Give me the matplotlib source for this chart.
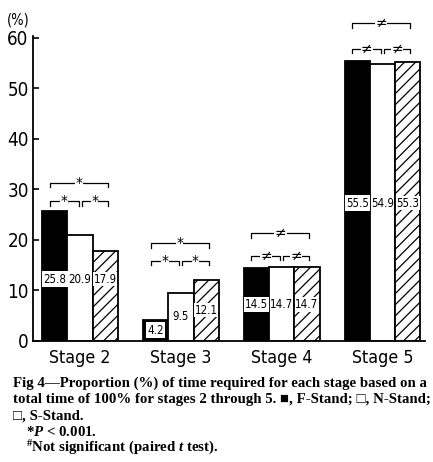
""" Fig 4: proportion of time per stage for three standing conditions """

import numpy as np
import matplotlib
matplotlib.use('Agg')
from matplotlib import pyplot as plt

stages = ['Stage 2', 'Stage 3', 'Stage 4', 'Stage 5']
f_stand = [25.8, 4.2, 14.5, 55.5]
n_stand = [20.9, 9.5, 14.7, 54.9]
s_stand = [17.9, 12.1, 14.7, 55.3]
signif = ['*', '*', '\u2260', '\u2260']
y_ticks = [0, 10, 20, 30, 40, 50, 60]

# layout only (label heights and bracket heights per stage)
label_y = [12.2, None, 7.2, 27.3]
low_bracket = [27.7, 15.9, 16.9, 57.8]
high_bracket = [31.3, 19.3, 21.3, 62.9]

plt.rcParams['hatch.linewidth'] = 0.9
NARROW = dict(family='DejaVu Sans', stretch='condensed')

fig = plt.figure(figsize=(4.33, 4.62), dpi=100)
ax = fig.add_axes([0.076, 0.262, 0.906, 0.70])

x = np.arange(len(stages)) * 4.0
w = 1.0
series = [f_stand, n_stand, s_stand]
styles = [dict(color='black', edgecolor='black'),
          dict(color='white', edgecolor='black'),
          dict(color='white', edgecolor='black', hatch='///')]
for k, (vals, st) in enumerate(zip(series, styles)):
    ax.bar(x + (k - 1) * w, vals, width=w, linewidth=1.3, **st)

# value labels inside bars
for i in range(len(stages)):
    for k, vals in enumerate(series):
        v = vals[i]
        yy = label_y[i] if label_y[i] is not None else v / 2.0
        if k == 0:
            box = dict(boxstyle='square,pad=0.12', fc='white', ec='none')
        elif k == 2:
            box = dict(boxstyle='square,pad=0.05', fc='white', ec='none')
        else:
            box = None
        ax.text(x[i] + (k - 1) * w, yy, '%0.1f' % v, ha='center', va='center',
                fontsize=8.3, bbox=box, **NARROW)


def bracket(x0, x1, y, sym):
    h = 0.9
    ax.plot([x0, x0, x1, x1], [y - h, y, y, y - h], color='black', lw=0.9,
            clip_on=False)
    ax.text((x0 + x1) / 2.0, y, sym, ha='center', va='center', fontsize=10,
            family='DejaVu Sans', bbox=dict(fc='white', ec='none', pad=0.2),
            clip_on=False)


for i in range(len(stages)):
    c = x[i]
    bracket(c - 1.2, c - 0.06, low_bracket[i], signif[i])
    bracket(c + 0.06, c + 1.1, low_bracket[i], signif[i])
    bracket(c - 1.2, c + 1.1, high_bracket[i], signif[i])

ax.set_xlim(-1.87, 13.69)
ax.set_ylim(0, 64)
ax.set_xticks(x)
ax.set_xticklabels(stages, fontsize=12.8, **NARROW)
ax.tick_params(axis='x', length=0, pad=6)
ax.set_yticks(y_ticks)
ax.set_yticklabels([str(t) for t in y_ticks], fontsize=13.5, **NARROW)
ax.tick_params(axis='y', direction='in', length=4, width=1.2, pad=3)
for s in ['top', 'right']:
    ax.spines[s].set_visible(False)
ax.spines['left'].set_bounds(0, 60.4)
ax.spines['left'].set_linewidth(1.3)
ax.spines['bottom'].set_linewidth(1.3)
ax.text(-2.92, 63.6, '(%)', fontsize=10.5, ha='left', va='center', **NARROW)

# caption
plt.rcParams['mathtext.fontset'] = 'custom'
plt.rcParams['mathtext.it'] = 'Liberation Serif:bold:italic'
plt.rcParams['mathtext.rm'] = 'Liberation Serif:bold'
cap = dict(family='Liberation Serif', weight='bold', fontsize=10.75, ha='left',
           va='center', transform=fig.transFigure)
lines = [
    (0.030, 'Fig 4\u2014Proportion (%) of time required for each stage based on a'),
    (0.030, 'total time of 100% for stages 2 through 5. \u25a0, F-Stand; \u25a1, N-Stand;'),
    (0.030, '\u25a1, S-Stand.'),
    (0.060, '*$\\mathit{P}$ < 0.001.'),
    (0.060, '$^{\\#}$Not significant (paired $\\mathit{t}$ test).'),
]
ys = [383, 400, 416, 432, 448]
for (xx, t), yp in zip(lines, ys):
    fig.text(xx, 1 - yp / 462.0, t, **cap)

fig.savefig('out.png', dpi=100)
